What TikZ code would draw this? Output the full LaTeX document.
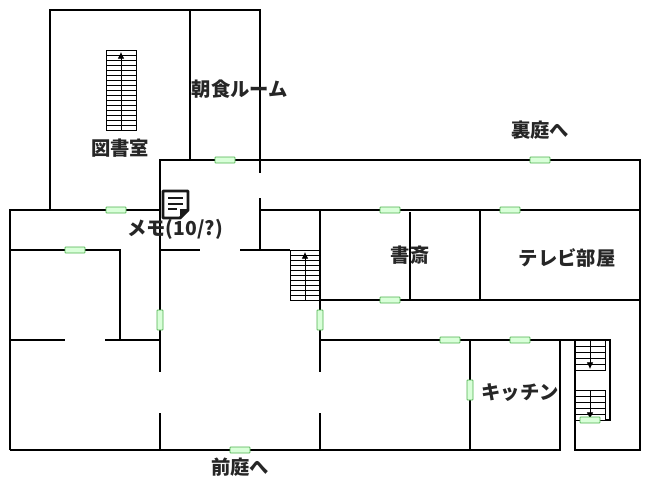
\documentclass[tikz,border=0pt]{standalone}
\usepackage{fontspec}
\usetikzlibrary{arrows.meta}
\newfontfamily\jp{Noto Sans CJK JP}
\tikzset{
 wall/.style={line width=0.9pt,black},
 door/.style={draw=green!40!gray,fill=green!15,line width=0.5pt,rounded corners=0.5pt},
 lbl/.style={font=\jp\bfseries\fontsize{14.5}{16}\selectfont,inner sep=0pt,text=black!85},
 stair/.style={line width=0.6pt,black},
 sarrow/.style={stair,-{Latex[length=5pt,width=5pt]}},
}
\begin{document}
\begin{tikzpicture}[x=0.75pt,y=-0.75pt]
\useasboundingbox (0,0) rectangle (651,494);
% walls
\draw[wall] (50,210) -- (50,10) -- (260,10) -- (260,173);
\draw[wall] (260,198) -- (260,250);
\draw[wall] (190,10) -- (190,160);
\draw[wall] (160,250) -- (160,160) -- (640,160) -- (640,450) -- (575,450) -- (575,340);
\draw[wall] (160,250) -- (160,372) (160,413) -- (160,450);
\draw[wall] (10,450) -- (10,210) -- (160,210);
\draw[wall] (260,210) -- (640,210);
\draw[wall] (10,450) -- (560,450) -- (560,340);
\draw[wall] (10,250) -- (120,250) -- (120,340);
\draw[wall] (160,250) -- (200,250) (240,250) -- (290,250);
\draw[wall] (320,210) -- (320,372) (320,413) -- (320,450);
\draw[wall] (10,340) -- (65,340) (105,340) -- (160,340);
\draw[wall] (320,340) -- (610,340) -- (610,420) -- (605,420);
\draw[wall] (320,300) -- (640,300);
\draw[wall] (410,212) -- (410,300);
\draw[wall] (480,210) -- (480,300);
\draw[wall] (470,340) -- (470,450);
% stairs
\foreach \x/\ya/\yb/\n in {106/50/130/15,290/250/300/9,575/340/370/4,575/390/420/4}{
  \draw[stair] (\x,\ya) rectangle (\x+30,\yb);
  \foreach \i in {1,...,\n}{ \draw[stair] (\x,{\ya+(\yb-\ya)*\i/(\n+1)}) -- (\x+30,{\ya+(\yb-\ya)*\i/(\n+1)}); }
}
\draw[sarrow] (121,130) -- (121,52);
\draw[sarrow] (305,300) -- (305,252);
\draw[sarrow] (590,340) -- (590,369);
\draw[sarrow] (590,390) -- (590,419);
% doors
\foreach \x/\y in {225/160,540/160,116/210,390/210,510/210,75/250,390/300,450/340,520/340,240/450,590/420}
  \draw[door] (\x-10,\y-3) rectangle (\x+10,\y+3);
\foreach \x/\y in {160/320,320/320,470/390}
  \draw[door] (\x-3,\y-10) rectangle (\x+3,\y+10);
% note icon
\draw[line width=2.2pt,gray!20!black,line join=round,fill=white] (163,191) -- (188,191) -- (188,210) -- (180,218) -- (163,218) -- cycle;
\fill[gray!20!black] (188,209) -- (180,217) -- (180,209) -- cycle;
\draw[line width=1.5pt,gray!20!black] (168,198) -- (183,198) (168,203.5) -- (183,203.5) (168,209) -- (177,209);
% labels
\node[lbl] (lib) at (120,148) {図書室};
\node[lbl] (bf) at (240,89) {朝食ルーム};
\node[lbl] (ura) at (540,130) {裏庭へ};
\node[lbl] (memo) at (175,229) {メモ(10/?)};
\node[lbl] (sho) at (410,255) {書斎};
\node[lbl] (tv) at (567,258) {テレビ部屋};
\node[lbl] (kit) at (520,393) {キッチン};
\node[lbl] (mae) at (240,467) {前庭へ};
\end{tikzpicture}
\end{document}
